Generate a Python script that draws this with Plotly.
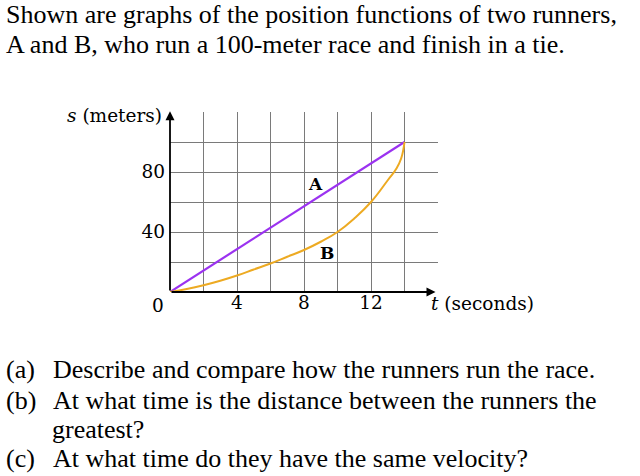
import plotly.graph_objects as go

# positions (t in seconds, s in meters)
t_a = [0, 14]
s_a = [0, 100]

t_b = [0, 1, 2, 3, 4, 5, 6, 7, 8, 9, 10, 11, 12, 13, 13.5, 13.8, 14]
s_b = [0, 2, 4.5, 7.5, 11, 15, 19, 23.5, 28, 33.5, 40, 49, 60, 74.5, 82, 89, 100]

x_grid = list(range(0, 17, 2))
y_grid = list(range(0, 121, 20))
x_labels = {4: "4", 8: "8", 12: "12"}
y_labels = {40: "40", 80: "80"}

intro = ["Shown are graphs of the position functions of two runners,",
         "A and B, who run a 100-meter race and finish in a tie."]
questions = [("(a)", "Describe and compare how the runners run the race."),
             ("(b)", "At what time is the distance between the runners the"),
             ("", "greatest?"),
             ("(c)", "At what time do they have the same velocity?")]

W, H = 640, 476
L, R, T, B = 170, 202, 112, 184
body_font = dict(family="Liberation Serif", size=26, color="black")
axis_font = dict(family="DejaVu Serif", size=18.5, color="black")


def px(x, y):
    # page pixel -> paper coords
    return (x - L) / (W - L - R), (H - B - y) / (H - T - B)


def text_at(x, y, text, anchor="left", font=body_font):
    xp, yp = px(x, y)
    return dict(x=xp, y=yp, xref="paper", yref="paper", xanchor=anchor,
                yanchor="middle", text=text, showarrow=False, font=font,
                borderpad=0)


fig = go.Figure()
fig.add_trace(go.Scatter(x=t_a, y=s_a, mode="lines",
                         line=dict(color="#9B32F0", width=2.2), hoverinfo="skip"))
fig.add_trace(go.Scatter(x=t_b, y=s_b, mode="lines",
                         line=dict(color="#EDAA22", width=2, shape="spline", smoothing=1.3),
                         hoverinfo="skip"))

ann = []
# axis arrows
ann.append(dict(x=15.85, y=0, ax=0, ay=0, xref="x", yref="y", axref="x", ayref="y",
                text="", showarrow=True, arrowhead=2, arrowsize=1, arrowwidth=1.8,
                arrowcolor="black"))
ann.append(dict(x=0, y=120.5, ax=0, ay=0, xref="x", yref="y", axref="x", ayref="y",
                text="", showarrow=True, arrowhead=2, arrowsize=1, arrowwidth=1.8,
                arrowcolor="black"))
# curve labels
ann.append(dict(x=8.7, y=72, text="<b>A</b>", showarrow=False,
                font=dict(family="DejaVu Serif", size=17, color="black")))
ann.append(dict(x=9.35, y=26, text="<b>B</b>", showarrow=False,
                font=dict(family="DejaVu Serif", size=17, color="black")))
# axis titles and origin
ann.append(dict(x=0, y=0, text="0", showarrow=False, font=axis_font,
                xshift=-12, yshift=-13.5))
ann.append(text_at(162.5, 115.3, "<i>s</i> (meters)", "right", axis_font))
ann.append(text_at(430, 303.6, "<i>t</i> (seconds)", "left", axis_font))

# text above and below the graph
for i, line in enumerate(intro):
    ann.append(text_at(5, 15 + 29 * i, line))
q_y = [369.5, 400.5, 429.3, 458.5]
for (tag, line), y in zip(questions, q_y):
    if tag:
        ann.append(text_at(5, y, tag))
    ann.append(text_at(51.5, y, line))

fig.update_layout(
    width=W, height=H,
    margin=dict(l=L, r=R, t=T, b=B, autoexpand=False),
    paper_bgcolor="white", plot_bgcolor="white",
    showlegend=False,
    annotations=ann,
    xaxis=dict(range=[0, 16], tickvals=x_grid,
               ticktext=[x_labels.get(v, "") for v in x_grid],
               showgrid=True, gridcolor="#7a7a7a", gridwidth=1.4,
               zeroline=False, showline=False, ticks="",
               tickfont=axis_font, ticklabelstandoff=-3, fixedrange=True),
    yaxis=dict(range=[0, 120], tickvals=y_grid,
               ticktext=[y_labels.get(v, "") for v in y_grid],
               showgrid=True, gridcolor="#7a7a7a", gridwidth=1.4,
               zeroline=False, showline=False, ticks="",
               tickfont=axis_font, ticklabelstandoff=4, fixedrange=True),
)

fig.write_html("out.html", config={"displayModeBar": False},
               post_script="document.body.style.margin = '0px';")
